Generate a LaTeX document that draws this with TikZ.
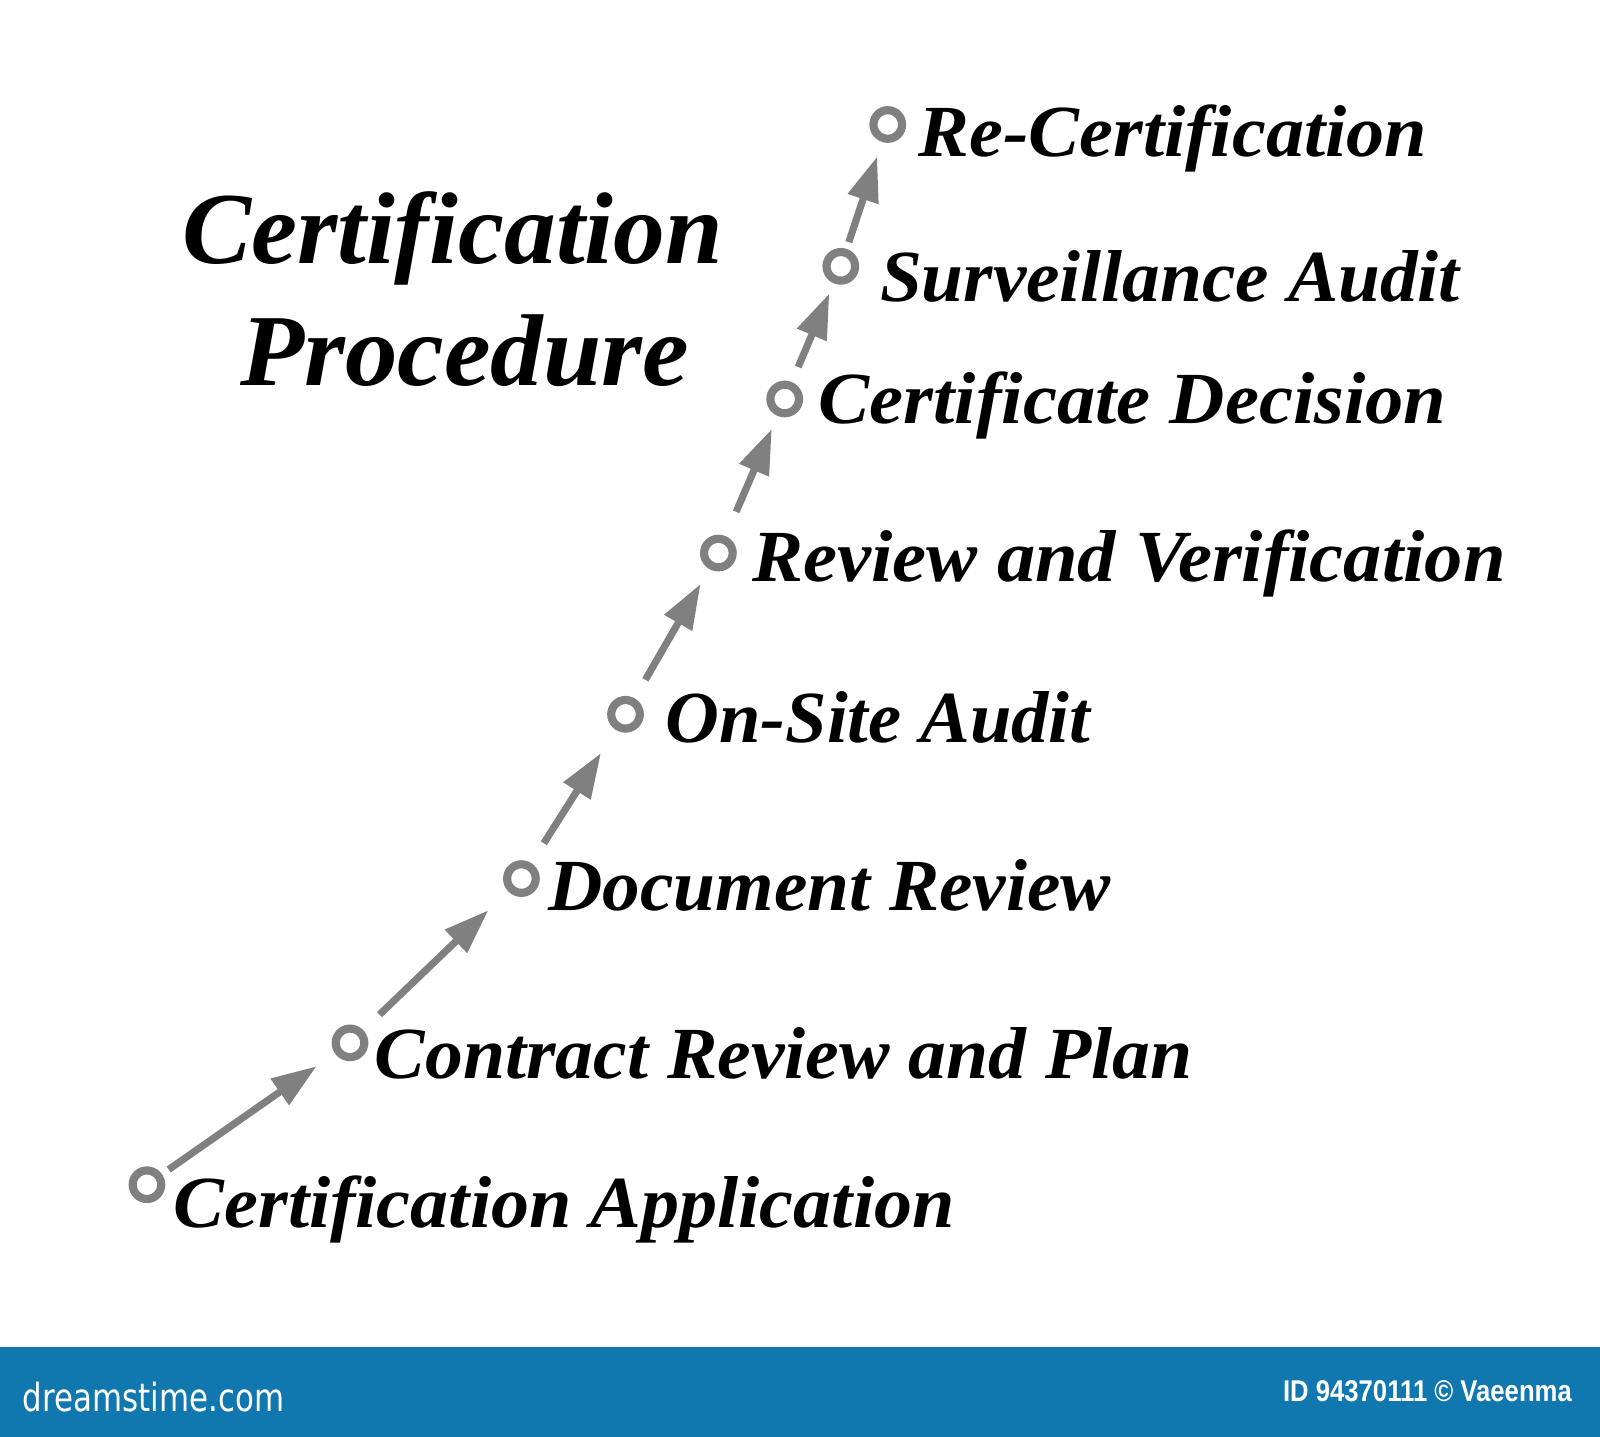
\documentclass[tikz,border=0pt]{standalone}
\usepackage{fontspec}
\setmainfont{Liberation Serif}
\newfontfamily\bannerfont{DejaVu Sans}
\newfontfamily\idfont{Liberation Sans}
\usetikzlibrary{arrows.meta}
\definecolor{stepgray}{RGB}{128,128,128}
\definecolor{bannerblue}{RGB}{17,119,175}
\newsavebox\lblbox
\newcommand\fitw[2]{\sbox\lblbox{#2}\pgfmathsetmacro\fitfac{(#1)/(\the\wd\lblbox)}\scalebox{\fitfac}[1]{\usebox\lblbox}}
\begin{document}
\begin{tikzpicture}[x=0.5pt,y=-0.5pt,
  ring/.style={circle,draw=stepgray,line width=4pt,minimum size=14pt,inner sep=0pt},
  lbl/.style={anchor=base west,inner sep=0pt,font=\fontsize{36}{40}\selectfont\bfseries\itshape},
  ttl/.style={anchor=base west,inner sep=0pt,font=\fontsize{50}{56}\selectfont\bfseries\itshape},
  flow/.style={draw=stepgray,line width=3.5pt,-{Triangle[length=22pt,width=15pt]}}]
\useasboundingbox (0,0) rectangle (1568,1408);
\fill[white] (0,0) rectangle (1568,1408);
% banner
\fill[bannerblue] (0,1320) rectangle (1568,1408);
\node[anchor=base west,inner sep=0pt,text=white,font=\bannerfont\fontsize{19}{21}\selectfont] (brand) at (22,1383) {\fitw{128}{dreamstime.com}};
\node[anchor=base west,inner sep=0pt,text=white,font=\idfont\bfseries\fontsize{14.7}{16}\selectfont] (idtxt) at (1257,1373) {\fitw{141.5}{ID 94370111 \textcopyright{} Vaeenma}};
% title
\node[ttl] (title1) at (178,258) {\fitw{265}{Certification}};
\node[ttl] (title2) at (235,378) {\fitw{220}{Procedure}};
% rings
\node[ring] (c1) at (144,1161) {};
\node[ring] (c2) at (343,1022) {};
\node[ring] (c3) at (511,861) {};
\node[ring] (c4) at (613,700) {};
\node[ring] (c5) at (704,542) {};
\node[ring] (c6) at (769,391) {};
\node[ring] (c7) at (824,261) {};
\node[ring] (c8) at (870,122) {};
% arrows
\draw[flow,shorten <=4pt,shorten >=11pt] (c1) -- (c2);
\draw[flow,shorten <=11pt,shorten >=13.5pt] (c2) -- (c3);
\draw[flow,shorten <=11.5pt,shorten >=13.5pt] (c3) -- (c4);
\draw[flow,shorten <=10.5pt,shorten >=8.5pt] (c4) -- (c5);
\draw[flow,shorten <=13pt,shorten >=7pt] (c5) -- (c6);
\draw[flow,shorten <=8pt,shorten >=5.5pt] (c6) -- (c7);
\draw[flow,shorten <=3.5pt,shorten >=7.5pt] (c7) -- (c8);
% labels
\node[lbl] (t1) at (170,1203) {\fitw{382.5}{Certification Application}};
\node[lbl] (t2) at (367,1057) {\fitw{400.5}{Contract Review and Plan}};
\node[lbl] (t3) at (537,892) {\fitw{275.5}{Document Review}};
\node[lbl] (t4) at (652,728) {\fitw{208}{On-Site Audit}};
\node[lbl] (t5) at (737,570) {\fitw{369}{Review and Verification}};
\node[lbl] (t6) at (802,415) {\fitw{307.5}{Certificate Decision}};
\node[lbl] (t7) at (862,295) {\fitw{284}{Surveillance Audit}};
\node[lbl] (t8) at (900,153) {\fitw{249}{Re-Certification}};
\end{tikzpicture}
\end{document}
